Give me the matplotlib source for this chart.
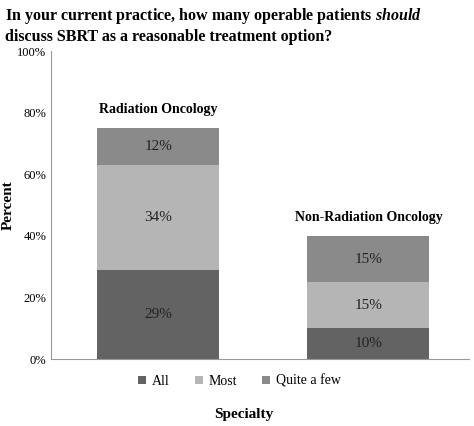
import matplotlib.pyplot as plt

categories = ['Radiation Oncology', 'Non-Radiation Oncology']
all_vals = [29, 10]
most_vals = [34, 15]
few_vals = [12, 15]
series_names = ['All', 'Most', 'Quite a few']
colors = ['#636363', '#b5b5b5', '#8a8a8a']

plt.rcParams['font.family'] = ['Liberation Serif', 'DejaVu Serif']
plt.rcParams['mathtext.fontset'] = 'custom'
plt.rcParams['mathtext.it'] = 'Liberation Serif:italic:bold'
plt.rcParams['mathtext.rm'] = 'Liberation Serif:bold'

fig = plt.figure(figsize=(4.74, 4.26), dpi=100)
ax = fig.add_axes([0.108, 0.157, 0.882, 0.723])

x = [0, 1]
bottom = [0, 0]
for vals, name, c in zip([all_vals, most_vals, few_vals], series_names, colors):
    ax.bar(x, vals, bottom=bottom, width=0.58, color=c, label=name)
    for xi, b, v in zip(x, bottom, vals):
        ax.text(xi, b + v / 2, f'{v}%', ha='center', va='center', fontsize=11, color='#222222')
    bottom = [b + v for b, v in zip(bottom, vals)]

for xi, tot, name in zip(x, bottom, categories):
    ax.text(xi, tot + 4, name, ha='center', va='bottom', fontsize=10, fontweight='bold')

ax.set_xlim(-0.51, 1.48)
ax.set_ylim(0, 100)
ax.set_yticks(range(0, 101, 20))
ax.set_yticklabels([f'{t}%' for t in range(0, 101, 20)], fontsize=9)
ax.set_xticks([])
ax.spines['top'].set_visible(False)
ax.spines['right'].set_visible(False)
ax.spines['left'].set_color('#999999')
ax.spines['bottom'].set_color('#999999')
ax.tick_params(axis='y', length=0)
ax.set_ylabel('Percent', fontsize=11, fontweight='bold', labelpad=2)

ax.legend(loc='upper center', bbox_to_anchor=(0.45, -0.01), ncol=3, frameon=False,
          fontsize=10, handlelength=0.6, handleheight=0.6, columnspacing=1.8, handletextpad=0.4)
fig.text(0.515, 0.018, 'Specialty', ha='center', fontsize=11, fontweight='bold')
fig.text(0.01, 0.985, 'In your current practice, how many operable patients $\\it{should}$\ndiscuss SBRT as a reasonable treatment option?',
         ha='left', va='top', fontsize=11.5, fontweight='bold', linespacing=1.2)

fig.savefig('out.png', dpi=100)
